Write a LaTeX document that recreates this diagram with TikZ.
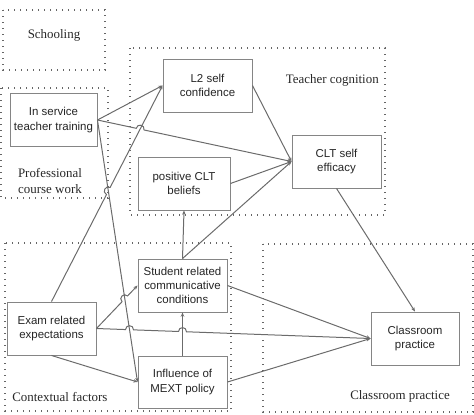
\documentclass[tikz,border=0pt]{standalone}
\usepackage{fontspec}
\setmainfont{Liberation Serif}
\newfontfamily\boxfont{Liberation Sans}
\usetikzlibrary{arrows.meta,calc}
\newcommand\mkhop[3]{%
  \coordinate (#1a) at ($(#1)!3pt!(#2)$);
  \coordinate (#1b) at ($(#1)!3pt!(#3)$);
  \coordinate (#1c) at ($(#1a)!4pt!90:(#1b)$);
  \coordinate (#1d) at ($(#1b)!4pt!-90:(#1a)$);
}
\tikzset{
  area/.style={draw=black!60, line width=1.1pt, dash pattern=on 1.1pt off 3.4pt},
  box/.style={draw=black!48, line width=0.7pt, fill=white, inner sep=0pt,
    minimum width=66.75pt, minimum height=39.75pt, align=center,
    font=\boxfont\fontsize{8.6}{10.7}\selectfont, text=black!85},
  lbl/.style={inner sep=0pt, font=\fontsize{9.7}{12}\selectfont, text=black!85, align=center},
  conn/.style={draw=black!58, line width=0.75pt, -{Stealth[length=3.2pt,width=2.6pt]}},
}
\begin{document}
\begin{tikzpicture}[x=0.75pt,y=-0.75pt]
\useasboundingbox (0,0) rectangle (474,414);
% areas
\draw[area] (3,10) rectangle (105,70);
\node[lbl] (lschool) at (54,35) {Schooling};
\draw[area] (1,88) rectangle (108,198);
\node[lbl, font=\fontsize{9.7}{12}\selectfont] (lprof) at (50,181) {Professional\\[0pt]course work};
\draw[area] (130,48) rectangle (385,215);
\node[lbl, anchor=east] (lteach) at (379,80) {Teacher cognition};
\draw[area] (5,243) rectangle (231,411);
\node[lbl, anchor=west] (lctx) at (12,397) {Contextual factors};
\draw[area] (263,244) rectangle (473,412);
\node[lbl] (lclass) at (400,396) {Classroom practice};
% boxes
\node[box, minimum width=65.25pt] (ins) at (53.5,120) {In service\\teacher training};
\node[box] (l2) at (207.5,85.5) {L2 self\\confidence};
\node[box, minimum width=69pt] (pos) at (184,183.5) {positive CLT\\beliefs};
\node[box] (clt) at (336.5,161.5) {CLT self\\efficacy};
\node[box] (stu) at (182.5,285.5) {Student related\\communicative\\conditions};
\node[box] (exam) at (51.5,328.5) {Exam related\\expectations};
\node[box, minimum height=39pt] (mext) at (182.5,382) {Influence of\\MEXT policy};
\node[box, minimum width=66pt] (cls) at (415,338.5) {Classroom\\practice};
% intersections
\coordinate (X1) at (intersection of ins.east--mext.west and exam.north--l2.west);
\coordinate (X2) at (intersection of ins.east--clt.west and exam.north--l2.west);
\coordinate (X3) at (intersection of ins.east--mext.west and exam.east--stu.west);
\coordinate (X4) at (intersection of ins.east--mext.west and exam.east--cls.west);
\coordinate (X5) at (intersection of mext.north--stu.south and exam.east--cls.west);
\mkhop{X1}{exam.north}{l2.west}
\mkhop{X2}{ins.east}{clt.west}
\mkhop{X3}{exam.east}{stu.west}
\mkhop{X4}{exam.east}{cls.west}
\mkhop{X5}{exam.east}{cls.west}
% connectors
\draw[conn] (ins.east) -- (l2.west);
\draw[conn] (ins.east) -- (X2a) .. controls (X2c) and (X2d) .. (X2b) -- (clt.west);
\draw[conn] (ins.east) -- (mext.west);
\draw[conn] (exam.north) -- (X1a) .. controls (X1c) and (X1d) .. (X1b) -- (l2.west);
\draw[conn] (exam.east) -- (X3a) .. controls (X3c) and (X3d) .. (X3b) -- (stu.west);
\draw[conn] (exam.east) -- (X4a) .. controls (X4c) and (X4d) .. (X4b) -- (X5a) .. controls (X5c) and (X5d) .. (X5b) -- (cls.west);
\draw[conn] (exam.south) -- (mext.west);
\draw[conn] (mext.north) -- (stu.south);
\draw[conn] (stu.north) -- (pos.south);
\draw[conn] (stu.north) -- (clt.west);
\draw[conn] (pos.east) -- (clt.west);
\draw[conn] (l2.east) -- (clt.west);
\draw[conn] (clt.south) -- (cls.north);
\draw[conn] (stu.east) -- (cls.west);
\draw[conn] (mext.east) -- (cls.west);
\end{tikzpicture}
\end{document}
